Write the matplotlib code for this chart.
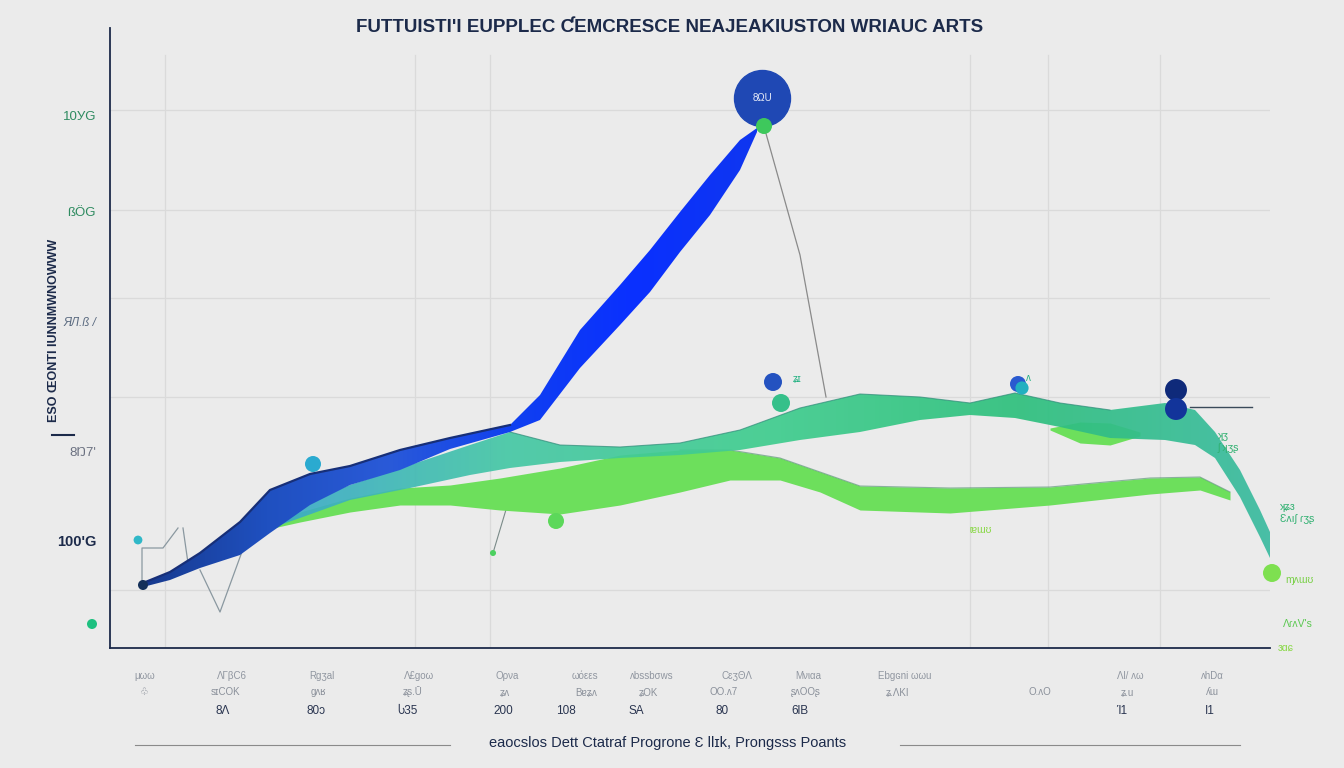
import numpy as np
import matplotlib
matplotlib.use("Agg")
import matplotlib.pyplot as plt
from matplotlib.colors import LinearSegmentedColormap

plt.rcParams['font.family'] = ['Liberation Sans Narrow', 'Liberation Sans', 'DejaVu Sans']

# --- data (x: progress step, y: value) ---
blue_x = [3.3, 6, 9, 13, 16, 20, 24, 29, 34, 40, 43, 47, 51, 54, 57, 60, 63, 64.7]
blue_hi = [6.5, 7.6, 9.5, 12.6, 15.8, 17.4, 18.2, 19.8, 21.0, 22.3, 25.3, 31.8, 36.3, 39.8, 43.6, 47.3, 50.8, 52.0]
blue_lo = [6.1, 6.8, 8.0, 9.3, 11.5, 14.3, 16.3, 17.8, 19.9, 21.6, 22.8, 28.0, 32.3, 35.6, 39.6, 43.3, 47.8, 51.6]

teal_x = [15, 19, 24, 30, 36, 40, 45, 51, 57, 63, 69, 75, 81, 86, 90.5, 95, 100, 105.5, 108.5, 110.5, 113, 115, 116]
teal_hi = [12.1, 14.3, 16.3, 18.3, 20.3, 21.6, 20.3, 20.1, 20.5, 21.8, 24.0, 25.4, 25.1, 24.5, 25.5, 24.5, 23.8, 24.5, 23.8, 21.6, 17.8, 13.8, 11.6]
teal_lo = [11.6, 13.0, 14.8, 16.0, 17.3, 18.0, 18.6, 19.0, 19.3, 19.8, 20.8, 21.6, 22.8, 23.3, 23.0, 22.1, 21.0, 20.8, 20.3, 19.0, 15.1, 11.1, 9.0]

lime_x = [14.5, 19, 24, 29, 34, 39, 45, 51, 57, 62, 67, 71, 75, 84, 94, 104, 109, 112]
lime_hi = [12.0, 13.6, 15.0, 16.0, 16.3, 17.0, 18.0, 19.3, 19.8, 19.8, 19.0, 17.6, 16.2, 16.0, 16.1, 17.0, 17.1, 15.6]
lime_lo = [11.6, 12.6, 13.6, 14.3, 14.3, 13.8, 13.4, 14.3, 15.6, 16.8, 16.8, 15.6, 13.8, 13.5, 14.3, 15.4, 15.8, 14.8]

patch_x = [94, 97, 100, 103]
patch_hi = [22.0, 22.6, 22.5, 21.6]
patch_lo = [21.8, 20.5, 20.3, 21.2]

# points: x, y, size, colour
pt_x = [65.4, 66.3, 67.1, 90.8, 91.2, 106.6, 106.6, 20.3, 44.6, 38.3, 116.2, -1.8, 3.3, 2.8]
pt_y = [52.2, 26.6, 24.5, 26.4, 26.0, 25.8, 23.9, 18.4, 12.7, 9.5, 7.5, 2.4, 6.3, 10.8]
pt_s = [133, 168, 168, 133, 90, 250, 250, 133, 133, 19, 168, 52, 52, 40]
pt_c = ['#3ec85c', '#2452c0', '#35c08a', '#2a5ad0', '#22b0c0', '#0f2a7a', '#12349a',
        '#2aaad0', '#5cd85a', '#4cd060', '#7ee050', '#1ec080', '#15305a', '#30b8c8']

peak_x, peak_y, peak_label = 65.2, 55.0, "8ΩU"

leader_x = [65.5, 69, 71.6]
leader_y = [51.8, 39.3, 25.1]
stem_x = [39.8, 38.3]
stem_y = [14.5, 9.5]
zig1_x = [3.2, 3.2, 5.3, 6.8]
zig1_y = [6.5, 10.0, 10.0, 12.0]
zig2_x = [7.3, 7.8]
zig2_y = [12.0, 8.5]
zig3_x = [9.0, 11.0, 13.7]
zig3_y = [7.8, 3.6, 11.0]

ytick_pos = [53.3, 43.6, 32.6, 19.6, 10.7]
ytick_lab = ["10УG", "ßÖG", "ЯЛ.ß /", "8Ŋ7'", "100'G"]
ytick_col = ['#2e8b60', '#2e8b60', '#5a6a80', '#6a7080', '#1c2a4a']

row1_x = [3.5, 12.2, 21.2, 30.9, 39.7, 47.5, 54.2, 62.7, 69.8, 79.5, 102.0, 110.2]
row1 = ["μωω", "ΛΓβC6", "Rgʒal", "Λ£ɡoω", "Oρνa", "ωόεεs", "ʌbssbσws", "CɛʒΘΛ", "Μνιαa", "Ebgɢni ωωu", "Λl/ ʌω", "ʌhDα"]
row2_x = [3.4, 11.6, 20.8, 30.3, 39.5, 47.6, 53.8, 61.4, 69.6, 78.8, 93.0, 101.7, 110.2]
row2 = ["♧", "sɪCOK", "ɡʌʁ", "ʑʂ.Ū", "ʑʌ", "Bɐʑʌ", "ʑOK", "OO.ʌ7", "ʂʌOOʂ", "ʑ.ΛKI", "O.ʌO", "ʑ.u", "ʎɯ"]
row3_x = [11.3, 20.6, 29.7, 39.3, 45.6, 52.6, 61.2, 69.0, 101.2, 110.0]
row3 = ["8Λ", "80ɔ", "Ⴑ35", "200", "108", "SA", "80", "6lB", "Ί1", "I1"]

grid_y = [53.8, 43.8, 35.0, 25.1, 5.8]
grid_x = [5.5, 30.5, 38, 86, 93.8, 105]

title = "FUTTUISTI'I EUPPLEC ƇEMCRESCE NEAJEAKIUSTON WRIAUC ARTS"
xlabel = "eaocslos Dett Ctatraf Progrone Ɛ llɪk, Prongsss Poants"
ylabel = "ESO ŒONTI IUNNMWNOWWW"

bg = '#ebebeb'
fig = plt.figure(figsize=(13.44, 7.68), dpi=100, facecolor=bg)
ax = fig.add_axes([110/1344, 120/768, 1160/1344, 620/768], facecolor=bg)


def gradient_band(x, lo, hi, colors, z, alpha=1.0):
    poly = ax.fill_between(x, lo, hi, facecolor='none', edgecolor='none')
    path = poly.get_paths()[0]
    cmap = LinearSegmentedColormap.from_list('band', colors)
    grad = np.linspace(0, 1, 256).reshape(1, -1)
    im = ax.imshow(grad, cmap=cmap, extent=[min(x), max(x), min(lo), max(hi)],
                   aspect='auto', origin='lower', zorder=z, alpha=alpha)
    im.set_clip_path(path, transform=ax.transData)


for gy in grid_y:
    ax.axhline(gy, color='#dadada', lw=0.9, zorder=0)
for gx in grid_x:
    ax.axvline(gx, ymin=0.0, ymax=0.956, color='#dadada', lw=0.9, zorder=0)

# bands
ax.fill_between(lime_x, lime_lo, lime_hi, color='#6ddf5c', lw=0, zorder=2)
ax.plot(lime_x[8:], lime_hi[8:], color='#4a8a6a', lw=0.8, alpha=0.6, zorder=2)
ax.fill_between(patch_x, patch_lo, patch_hi, color='#6ddf5c', lw=0, zorder=3)
gradient_band(teal_x, teal_lo, teal_hi,
              ['#3aa6cc', '#45c8a4', '#3fcd8e', '#2dc07c', '#3abaa0'], 3, alpha=0.92)
ax.plot(teal_x[5:17], teal_hi[5:17], color='#2e8a78', lw=0.8, alpha=0.7, zorder=3)
gradient_band(blue_x, blue_lo, blue_hi,
              ['#173a8e', '#1f50c0', '#2a5ad8', '#1040f0', '#0a30ff', '#0f36f0'], 4)
ax.plot(blue_x[:10], blue_hi[:10], color='#172f78', lw=1.6, zorder=4)

# thin lines
ax.plot(leader_x, leader_y, color='#8a8a8a', lw=0.9, zorder=1)
ax.plot(stem_x, stem_y, color='#7a8a88', lw=0.8, zorder=1)
for zx, zy in [(zig1_x, zig1_y), (zig2_x, zig2_y), (zig3_x, zig3_y)]:
    ax.plot(zx, zy, color='#8a98a0', lw=0.9, zorder=1)
ax.plot([108, 114.2], [24.1, 24.1], color='#3a4a5a', lw=1.0, zorder=5)

# points
ax.scatter(peak_x, peak_y, s=1625, color='#1f48b4', zorder=6, clip_on=False)
ax.text(peak_x, peak_y, peak_label, color='#e8ecf8', fontsize=7, ha='center', va='center', zorder=7)
ax.scatter(pt_x, pt_y, s=pt_s, c=pt_c, zorder=6, clip_on=False, linewidths=0)

# small green notes
notes = [(68.3, 27.0, "ʑɪ", '#20b080', 7), (91.6, 27.0, "ʌ", '#20b080', 7),
         (110.8, 20.6, "ʞʒ\nʃ ʞʒʂ", '#30b070', 7.5), (117.0, 13.5, "ʞʑɜ\nƐʌıʃ ɾʒʂ", '#2fb070', 7.5),
         (117.5, 6.8, "ɱʌɯʊ", '#7ad048', 7.5), (117.3, 2.4, "ɅɾʌV's", '#5ac850', 7.5),
         (116.8, 0.0, "ɜɑɕ", '#8ad848', 7.5), (86.0, 11.8, "ɩɐɯʊ", '#8ad848', 7.5)]
for nx_, ny_, txt, col, fs in notes:
    ax.text(nx_, ny_, txt, color=col, fontsize=fs, ha='left', va='center', clip_on=False)

ax.set_xlim(0, 116)
ax.set_ylim(0, 62)

# spines
for s in ['top', 'right']:
    ax.spines[s].set_visible(False)
ax.spines['left'].set_color('#1c2a4a')
ax.spines['bottom'].set_color('#1c2a4a')
ax.spines['left'].set_linewidth(1.3)
ax.spines['bottom'].set_linewidth(1.3)
ax.set_xticks([])
ax.set_yticks(ytick_pos)
ax.set_yticklabels(ytick_lab)
ax.tick_params(axis='y', length=0, pad=10)
for lab, col in zip(ax.get_yticklabels(), ytick_col):
    lab.set_color(col)
    lab.set_fontsize(9.5)
ax.get_yticklabels()[-1].set_fontweight('bold')
ax.get_yticklabels()[-1].set_fontsize(10.5)
ax.get_yticklabels()[2].set_fontstyle('italic')
ax.get_yticklabels()[2].set_fontsize(8.5)

# x labels (three rows)
tr = ax.get_xaxis_transform()
for xx, t in zip(row1_x, row1):
    ax.text(xx, -0.045, t, transform=tr, ha='center', va='center', fontsize=7, color='#9096a0')
for xx, t in zip(row2_x, row2):
    ax.text(xx, -0.071, t, transform=tr, ha='center', va='center', fontsize=7, color='#8a909a')
for xx, t in zip(row3_x, row3):
    ax.text(xx, -0.102, t, transform=tr, ha='center', va='center', fontsize=8.5, color='#2a3550')

fig.text(54/1344, 1 - 330/768, ylabel, rotation=90, ha='center', va='center',
         fontsize=9, fontweight='bold', color='#1c2a4a')
fig.add_artist(plt.Line2D([52/1344, 74/1344], [1 - 435/768, 1 - 435/768], color='#1c2a4a', lw=1.5))

fig.text(670/1344, 1 - 28/768, title, ha='center', va='center', fontsize=13.5,
         fontweight='bold', color='#1c2a4a')
fig.text(668/1344, 1 - 743/768, xlabel, ha='center', va='center', fontsize=10.5, color='#1c2a4a')
fig.add_artist(plt.Line2D([135/1344, 450/1344], [1 - 745/768] * 2, color='#8a8a8a', lw=0.8))
fig.add_artist(plt.Line2D([900/1344, 1240/1344], [1 - 745/768] * 2, color='#8a8a8a', lw=0.8))

fig.savefig('out.png', dpi=100, facecolor=bg)
